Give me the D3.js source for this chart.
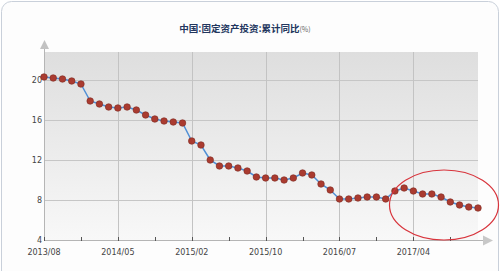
<!DOCTYPE html>
<meta charset="utf-8">
<style>
html, body { margin: 0; padding: 0; background: #fff; }
svg { display: block; }
.tick-label { font-family: "DejaVu Sans", Verdana, sans-serif; font-size: 8px; fill: #444; }
</style>
<svg width="500" height="271"></svg>
<script src="https://cdn.jsdelivr.net/npm/d3@7"></script>
<script>

// months (China publishes Jan+Feb together, so January is skipped)
var months = ["2013/08","2013/09","2013/10","2013/11","2013/12",
  "2014/02","2014/03","2014/04","2014/05","2014/06","2014/07","2014/08","2014/09","2014/10","2014/11","2014/12",
  "2015/02","2015/03","2015/04","2015/05","2015/06","2015/07","2015/08","2015/09","2015/10","2015/11","2015/12",
  "2016/02","2016/03","2016/04","2016/05","2016/06","2016/07","2016/08","2016/09","2016/10","2016/11","2016/12",
  "2017/02","2017/03","2017/04","2017/05","2017/06","2017/07","2017/08","2017/09","2017/10","2017/11"];

var values = [20.3, 20.2, 20.1, 19.9, 19.6,
  17.9, 17.6, 17.3, 17.2, 17.3, 17.0, 16.5, 16.1, 15.9, 15.8, 15.7,
  13.9, 13.5, 12.0, 11.4, 11.4, 11.2, 10.9, 10.3, 10.2, 10.2, 10.0,
  10.2, 10.7, 10.5, 9.6, 9.0, 8.1, 8.1, 8.2, 8.3, 8.3, 8.1,
  8.9, 9.2, 8.9, 8.6, 8.6, 8.3, 7.8, 7.5, 7.3, 7.2];

var yTicks = [4, 8, 12, 16, 20];
var xTickLabels = ["2013/08", "2014/05", "2015/02", "2015/10", "2016/07", "2017/04"];

var svg = d3.select("svg"),
    plotLeft = 44, plotRight = 478, plotTop = 52, plotBottom = 240;

var defs = svg.append("defs");
var grad = defs.append("linearGradient").attr("id", "bg")
    .attr("x1", 0).attr("y1", 0).attr("x2", 0).attr("y2", 1);
grad.append("stop").attr("offset", "0%").attr("stop-color", "#dedede");
grad.append("stop").attr("offset", "100%").attr("stop-color", "#f8f8f8");

// outer frame
svg.append("rect")
    .attr("x", 1.5).attr("y", 1.5).attr("width", 497).attr("height", 300)
    .attr("rx", 10)
    .attr("fill", "#fdfdfd").attr("stroke", "#c9d0da");

svg.append("text")
    .attr("x", 245).attr("y", 32)
    .attr("text-anchor", "middle")
    .style("font-family", "'Noto Sans CJK SC', sans-serif")
    .style("font-size", "9.5px")
    .style("font-weight", "bold")
    .style("fill", "#22365e")
    .text("中国:固定资产投资:累计同比")
  .append("tspan")
    .style("font-size", "7px")
    .style("font-weight", "normal")
    .style("fill", "#666")
    .text("(%)");

var x = d3.scalePoint().domain(months).range([plotLeft, plotRight]);
var y = d3.scaleLinear().domain([4, 22.8]).range([plotBottom, plotTop]);

svg.append("rect")
    .attr("x", plotLeft).attr("y", plotTop)
    .attr("width", plotRight - plotLeft).attr("height", plotBottom - plotTop)
    .attr("fill", "url(#bg)");

// horizontal grid
svg.append("g").selectAll("line")
    .data(yTicks.slice(1))
    .enter().append("line")
      .attr("x1", plotLeft).attr("x2", plotRight)
      .attr("y1", function(d) { return y(d) + 0.5; })
      .attr("y2", function(d) { return y(d) + 0.5; })
      .attr("stroke", "#c6c6c6");

// vertical grid
svg.append("g").selectAll("line")
    .data(xTickLabels.slice(1))
    .enter().append("line")
      .attr("x1", function(d) { return Math.round(x(d)) + 0.5; })
      .attr("x2", function(d) { return Math.round(x(d)) + 0.5; })
      .attr("y1", plotTop).attr("y2", plotBottom)
      .attr("stroke", "#c3c3c3");

// axes lines + arrows
svg.append("line")
    .attr("x1", plotLeft + 0.5).attr("x2", plotLeft + 0.5)
    .attr("y1", plotBottom).attr("y2", 47)
    .attr("stroke", "#b5b5b5");
svg.append("path")
    .attr("d", "M" + (plotLeft + 0.5) + ",40L" + (plotLeft + 5) + ",49L" + (plotLeft - 4) + ",49Z")
    .attr("fill", "#c2c2c2");
svg.append("line")
    .attr("x1", plotLeft).attr("x2", 486)
    .attr("y1", plotBottom + 0.5).attr("y2", plotBottom + 0.5)
    .attr("stroke", "#b5b5b5");
svg.append("path")
    .attr("d", "M493," + (plotBottom + 0.5) + "L483," + (plotBottom - 4.5) + "L483," + (plotBottom + 5.5) + "Z")
    .attr("fill", "#c8c8c8");

// ticks on x axis: major every 8 points, minor in between
var tickMonths = months.filter(function(d, i) { return i % 4 === 0; });
svg.append("g").selectAll("line")
    .data(tickMonths)
    .enter().append("line")
      .attr("x1", function(d) { return Math.round(x(d)) + 0.5; })
      .attr("x2", function(d) { return Math.round(x(d)) + 0.5; })
      .attr("y1", plotBottom - 3).attr("y2", plotBottom + 1)
      .attr("stroke", "#555");

svg.append("g").selectAll("text")
    .data(xTickLabels)
    .enter().append("text")
      .attr("class", "tick-label")
      .attr("x", function(d) { return x(d); })
      .attr("y", 255)
      .attr("text-anchor", "middle")
      .text(function(d) { return d; });

svg.append("g").selectAll("text")
    .data(yTicks)
    .enter().append("text")
      .attr("class", "tick-label")
      .attr("x", 42)
      .attr("y", function(d) { return y(d); })
      .attr("dy", "0.35em")
      .attr("text-anchor", "end")
      .text(function(d) { return d; });

// the series
var line = d3.line()
    .x(function(d, i) { return x(months[i]); })
    .y(function(d) { return y(d); });

svg.append("path")
    .datum(values)
    .attr("d", line)
    .attr("fill", "none")
    .attr("stroke", "#4f8fd6")
    .attr("stroke-width", 1.5);

svg.append("g").selectAll("circle")
    .data(values)
    .enter().append("circle")
      .attr("cx", function(d, i) { return x(months[i]); })
      .attr("cy", function(d) { return y(d); })
      .attr("r", 3.3)
      .attr("fill", "#aa3b30")
      .attr("stroke", "#7e2a22")
      .attr("stroke-width", 0.6);

// hand drawn annotation
svg.append("ellipse")
    .attr("cx", 444).attr("cy", 205)
    .attr("rx", 54.5).attr("ry", 35)
    .attr("fill", "none")
    .attr("stroke", "#d8343c")
    .attr("stroke-width", 1.2);

</script>
